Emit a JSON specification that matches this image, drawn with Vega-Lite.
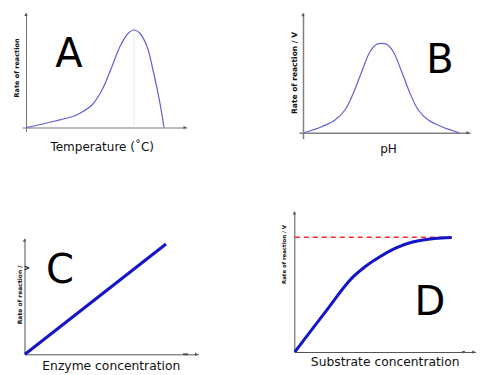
{
  "$schema": "https://vega.github.io/schema/vega-lite/v6.json",
  "background": "white",
  "padding": 0,
  "columns": 2,
  "spacing": 0,
  "bounds": "flush",
  "align": "all",
  "config": {
    "font": "DejaVu Sans",
    "view": {"stroke": null, "fill": "white"},
    "axis": {"grid": false, "ticks": false, "labels": false, "titleColor": "#111", "titleFontWeight": "normal"}
  },
  "datasets": {
    "curveA": [
      {"x": 0, "y": 0}, {"x": 10, "y": 2}, {"x": 27, "y": 6}, {"x": 37, "y": 8.5}, {"x": 47, "y": 11},
      {"x": 57, "y": 16}, {"x": 66, "y": 22.5}, {"x": 76, "y": 37.5}, {"x": 86, "y": 61}, {"x": 94, "y": 81},
      {"x": 102, "y": 94}, {"x": 108, "y": 97.5}, {"x": 114, "y": 94}, {"x": 121, "y": 81},
      {"x": 127, "y": 57.5}, {"x": 134, "y": 24}, {"x": 138, "y": 0}
    ],
    "curveB": [
      {"x": 1, "y": 0}, {"x": 18.7, "y": 6}, {"x": 32, "y": 12.7}, {"x": 42, "y": 22.7}, {"x": 50.3, "y": 39.4},
      {"x": 58.7, "y": 61}, {"x": 67, "y": 81}, {"x": 73.7, "y": 88.4}, {"x": 78.7, "y": 89.4},
      {"x": 83.7, "y": 88.4}, {"x": 90.3, "y": 81}, {"x": 98.7, "y": 61}, {"x": 107, "y": 39.4},
      {"x": 115.3, "y": 22.7}, {"x": 125.3, "y": 12.7}, {"x": 138.7, "y": 6}, {"x": 156.4, "y": 0}
    ],
    "curveC": [
      {"x": 0.5, "y": 0}, {"x": 141.5, "y": 110.3}
    ],
    "curveD": [
      {"x": 0.5, "y": 0}, {"x": 30.2, "y": 38.9}, {"x": 59, "y": 75.3}, {"x": 70.7, "y": 85.3},
      {"x": 84, "y": 94.3}, {"x": 100.7, "y": 103.7}, {"x": 117.4, "y": 109.7}, {"x": 134, "y": 112.7},
      {"x": 147.4, "y": 114}, {"x": 157.4, "y": 114.5}
    ]
  },
  "concat": [
    {
      "width": 250, "height": 187,
      "encoding": {
        "x": {"field": "x", "type": "quantitative",
          "scale": {"domain": [-4, 161], "range": [22, 187], "nice": false, "zero": false},
          "axis": {"title": "Temperature (˚C)", "offset": -59.5, "domainColor": "#777", "domainWidth": 1,
            "titleFontSize": 12, "titleX": 101.7, "titleY": 23, "titleBaseline": "alphabetic", "titleAnchor": null}},
        "y": {"field": "y", "type": "quantitative",
          "scale": {"domain": [-4, 115], "range": [131.5, 12.5], "nice": false, "zero": false},
          "axis": {"title": "Rate of reaction", "offset": -26, "domainColor": "#777", "domainWidth": 1,
            "titleFontSize": 6.5, "titleFontWeight": "bold", "titleX": -9.3, "titleY": 67.5, "titleBaseline": "middle", "titleAngle": 270}}
      },
      "layer": [
        {"data": {"values": [{"x": 108, "y": 0, "y2": 97.5}]}, "mark": {"type": "rule", "color": "#ececec", "strokeWidth": 1},
          "encoding": {"y2": {"field": "y2"}}},
        {"data": {"name": "curveA"}, "mark": {"type": "line", "color": "#6060d0", "strokeWidth": 1.2, "interpolate": "catmull-rom"}},
        {"data": {"values": [{"x": 0, "y": 113}]}, "mark": {"type": "point", "shape": "triangle-up", "filled": true, "size": 12, "color": "#555", "opacity": 1}},
        {"data": {"values": [{"x": 159, "y": 0}]}, "mark": {"type": "point", "shape": "triangle-right", "filled": true, "size": 12, "color": "#555", "opacity": 1}},
        {"data": {"values": [{"x": 43, "y": 60.5, "label": "A"}]}, "mark": {"type": "text", "fontSize": 40, "baseline": "alphabetic", "align": "center", "color": "#000"},
          "encoding": {"text": {"field": "label"}}}
      ]
    },
    {
      "width": 250, "height": 187,
      "encoding": {
        "x": {"field": "x", "type": "quantitative",
          "scale": {"domain": [-4, 167], "range": [49, 220], "nice": false, "zero": false},
          "axis": {"title": "pH", "offset": -54.3, "domainColor": "#808080", "domainWidth": 1.5,
            "titleFontSize": 12, "titleX": 138, "titleY": 19.3, "titleBaseline": "alphabetic", "titleAnchor": null}},
        "y": {"field": "y", "type": "quantitative",
          "scale": {"domain": [-6, 120], "range": [138.7, 12.7], "nice": false, "zero": false},
          "axis": {"title": "Rate of reaction / V", "offset": -53, "domainColor": "#808080", "domainWidth": 1.5,
            "titleFontSize": 7.5, "titleFontWeight": "bold", "titleX": -9, "titleY": 72.5, "titleBaseline": "middle", "titleAngle": 270}}
      },
      "layer": [
        {"data": {"name": "curveB"}, "mark": {"type": "line", "color": "#6060d0", "strokeWidth": 1.2, "interpolate": "catmull-rom"}},
        {"data": {"values": [{"x": 0, "y": 118}]}, "mark": {"type": "point", "shape": "triangle-up", "filled": true, "size": 12, "color": "#555", "opacity": 1}},
        {"data": {"values": [{"x": 165, "y": 0}]}, "mark": {"type": "point", "shape": "triangle-right", "filled": true, "size": 12, "color": "#555", "opacity": 1}},
        {"data": {"values": [{"x": 137, "y": 60.2, "label": "B"}]}, "mark": {"type": "text", "fontSize": 40, "baseline": "alphabetic", "align": "center", "color": "#000"},
          "encoding": {"text": {"field": "label"}}}
      ]
    },
    {
      "width": 250, "height": 187,
      "encoding": {
        "x": {"field": "x", "type": "quantitative",
          "scale": {"domain": [0, 174], "range": [24.5, 198.5], "nice": false, "zero": false},
          "axis": {"title": "Enzyme concentration", "offset": -19.7, "domainColor": "#555", "domainWidth": 1,
            "titleFontSize": 12.3, "titleX": 110.8, "titleY": 15.2, "titleBaseline": "alphabetic", "titleAnchor": null}},
        "y": {"field": "y", "type": "quantitative",
          "scale": {"domain": [0, 116], "range": [167.3, 51.3], "nice": false, "zero": false},
          "axis": {"title": ["Rate of reaction /", "V"], "offset": -24.5, "domainColor": "#555", "domainWidth": 1,
            "titleFontSize": 6, "titleFontWeight": "bold", "titleX": -5.5, "titleY": 78, "titleBaseline": "middle",
            "titleAlign": "right", "titleAngle": 270, "titleLineHeight": 7.3}}
      },
      "layer": [
        {"data": {"name": "curveC"}, "mark": {"type": "line", "color": "#1414c8", "strokeWidth": 3}},
        {"data": {"values": [{"x": 158.5, "x2": 163.5, "y": 0}]}, "mark": {"type": "rule", "color": "#555", "strokeWidth": 2},
          "encoding": {"x2": {"field": "x2"}}},
        {"data": {"values": [{"x": 0, "y": 114}]}, "mark": {"type": "point", "shape": "triangle-up", "filled": true, "size": 12, "color": "#555", "opacity": 1}},
        {"data": {"values": [{"x": 172, "y": 0}]}, "mark": {"type": "point", "shape": "triangle-right", "filled": true, "size": 12, "color": "#555", "opacity": 1}},
        {"data": {"values": [{"x": 35.5, "y": 71.3, "label": "C"}]}, "mark": {"type": "text", "fontSize": 40, "baseline": "alphabetic", "align": "center", "color": "#000"},
          "encoding": {"text": {"field": "label"}}}
      ]
    },
    {
      "width": 250, "height": 187,
      "encoding": {
        "x": {"field": "x", "type": "quantitative",
          "scale": {"domain": [0, 181.4], "range": [44.3, 225.7], "nice": false, "zero": false},
          "axis": {"title": "Substrate concentration", "offset": -22, "domainColor": "#555", "domainWidth": 1,
            "titleFontSize": 12.3, "titleX": 134.7, "titleY": 13.7, "titleBaseline": "alphabetic", "titleAnchor": null}},
        "y": {"field": "y", "type": "quantitative",
          "scale": {"domain": [0, 141], "range": [165, 24], "nice": false, "zero": false},
          "axis": {"title": "Rate of reaction / V", "offset": -44.3, "domainColor": "#555", "domainWidth": 1,
            "titleFontSize": 5.4, "titleFontWeight": "bold", "titleX": -11, "titleY": 67, "titleBaseline": "middle", "titleAngle": 270}}
      },
      "layer": [
        {"data": {"values": [{"x": 0.5, "x2": 157.4, "y": 114.7}]}, "mark": {"type": "rule", "color": "#ff2a2a", "strokeWidth": 1.4, "strokeDash": [5, 4]},
          "encoding": {"x2": {"field": "x2"}}},
        {"data": {"name": "curveD"}, "mark": {"type": "line", "color": "#1414c8", "strokeWidth": 3, "interpolate": "monotone"}},
        {"data": {"values": [{"x": 167.7, "x2": 170.7, "y": 0}]}, "mark": {"type": "rule", "color": "#555", "strokeWidth": 2},
          "encoding": {"x2": {"field": "x2"}}},
        {"data": {"values": [{"x": 0, "y": 139}]}, "mark": {"type": "point", "shape": "triangle-up", "filled": true, "size": 12, "color": "#555", "opacity": 1}},
        {"data": {"values": [{"x": 179.5, "y": 0}]}, "mark": {"type": "point", "shape": "triangle-right", "filled": true, "size": 12, "color": "#555", "opacity": 1}},
        {"data": {"values": [{"x": 135.7, "y": 37, "label": "D"}]}, "mark": {"type": "text", "fontSize": 40, "baseline": "alphabetic", "align": "center", "color": "#000"},
          "encoding": {"text": {"field": "label"}}}
      ]
    }
  ]
}
